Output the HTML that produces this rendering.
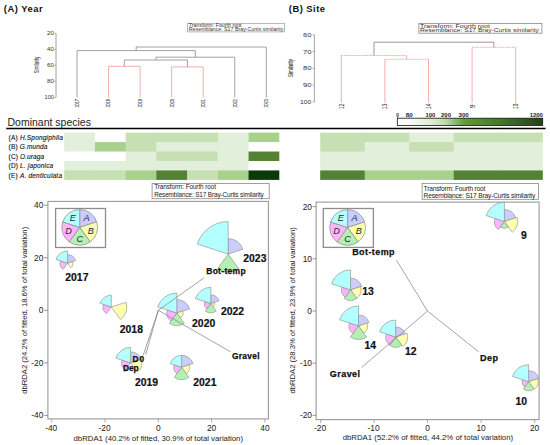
<!DOCTYPE html>
<html><head><meta charset="utf-8"><title>Figure</title>
<style>
html,body{margin:0;padding:0;background:#fff;width:550px;height:445px;overflow:hidden;}
svg{display:block;}
text{font-family:"Liberation Sans",sans-serif;}
</style></head><body>
<svg width="550" height="445" viewBox="0 0 550 445">
<rect width="550" height="445" fill="#fff"/>
<text x="3.8" y="11.9" font-size="9.4" font-weight="bold" fill="#111" textLength="38.9">(A) Year</text>
<text x="288.8" y="11.9" font-size="9.4" font-weight="bold" fill="#111" textLength="36.2">(B) Site</text>
<line x1="56.0" y1="33.3" x2="56.0" y2="97.5" stroke="#8c8c8c" stroke-width="0.8"/>
<line x1="54.4" y1="33.3" x2="56.0" y2="33.3" stroke="#8c8c8c" stroke-width="0.7"/>
<text x="53.9" y="35.10" font-size="5.0" text-anchor="end" fill="#333" textLength="6.9" lengthAdjust="spacingAndGlyphs">20</text>
<line x1="54.4" y1="49.35" x2="56.0" y2="49.35" stroke="#8c8c8c" stroke-width="0.7"/>
<text x="53.9" y="51.15" font-size="5.0" text-anchor="end" fill="#333" textLength="6.9" lengthAdjust="spacingAndGlyphs">40</text>
<line x1="54.4" y1="65.4" x2="56.0" y2="65.4" stroke="#8c8c8c" stroke-width="0.7"/>
<text x="53.9" y="67.20" font-size="5.0" text-anchor="end" fill="#333" textLength="6.9" lengthAdjust="spacingAndGlyphs">60</text>
<line x1="54.4" y1="81.45" x2="56.0" y2="81.45" stroke="#8c8c8c" stroke-width="0.7"/>
<text x="53.9" y="83.25" font-size="5.0" text-anchor="end" fill="#333" textLength="6.9" lengthAdjust="spacingAndGlyphs">80</text>
<line x1="54.4" y1="97.5" x2="56.0" y2="97.5" stroke="#8c8c8c" stroke-width="0.7"/>
<text x="53.9" y="99.30" font-size="5.0" text-anchor="end" fill="#333" textLength="9.4" lengthAdjust="spacingAndGlyphs">100</text>
<text transform="translate(39.4,64.8) rotate(-90)" font-size="6.6" text-anchor="middle" fill="#111" textLength="16.2" lengthAdjust="spacingAndGlyphs">Similarity</text>
<path d="M108.55,97.50 V66.30 H140.10 V97.50" fill="none" stroke="#f29a9a" stroke-width="0.8"/>
<path d="M171.65,97.50 V66.90 H203.20 V97.50" fill="none" stroke="#f29a9a" stroke-width="0.8"/>
<path d="M124.32,66.30 V60.00 H187.43 V66.90" fill="none" stroke="#8c8c8c" stroke-width="0.8"/>
<path d="M155.88,60.00 V57.20 H234.75 V97.50" fill="none" stroke="#8c8c8c" stroke-width="0.8"/>
<path d="M77.00,97.50 V50.60 H195.31 V57.20" fill="none" stroke="#8c8c8c" stroke-width="0.8"/>
<path d="M136.16,50.60 V47.00 H266.30 V97.50" fill="none" stroke="#8c8c8c" stroke-width="0.8"/>
<text transform="translate(78.90,103.3) rotate(-90)" font-size="6.0" text-anchor="middle" fill="#000" textLength="8.4" lengthAdjust="spacingAndGlyphs">2017</text>
<text transform="translate(110.45,103.3) rotate(-90)" font-size="6.0" text-anchor="middle" fill="#000" textLength="8.4" lengthAdjust="spacingAndGlyphs">2018</text>
<text transform="translate(142.00,103.3) rotate(-90)" font-size="6.0" text-anchor="middle" fill="#000" textLength="8.4" lengthAdjust="spacingAndGlyphs">2019</text>
<text transform="translate(173.55,103.3) rotate(-90)" font-size="6.0" text-anchor="middle" fill="#000" textLength="8.4" lengthAdjust="spacingAndGlyphs">2020</text>
<text transform="translate(205.10,103.3) rotate(-90)" font-size="6.0" text-anchor="middle" fill="#000" textLength="8.4" lengthAdjust="spacingAndGlyphs">2021</text>
<text transform="translate(236.65,103.3) rotate(-90)" font-size="6.0" text-anchor="middle" fill="#000" textLength="8.4" lengthAdjust="spacingAndGlyphs">2022</text>
<text transform="translate(268.20,103.3) rotate(-90)" font-size="6.0" text-anchor="middle" fill="#000" textLength="8.4" lengthAdjust="spacingAndGlyphs">2023</text>
<rect x="187.6" y="23.3" width="96.8" height="8.6" fill="#fff" stroke="#999" stroke-width="0.7"/>
<text x="188.8" y="27.3" font-size="5.0" fill="#333" textLength="52.8" lengthAdjust="spacingAndGlyphs">Transform: Fourth root</text>
<text x="188.8" y="31.3" font-size="5.0" fill="#333" textLength="94.6" lengthAdjust="spacingAndGlyphs">Resemblance: S17 Bray-Curtis similarity</text>
<line x1="314.4" y1="34.8" x2="314.4" y2="102.0" stroke="#8c8c8c" stroke-width="0.8"/>
<line x1="312.59999999999997" y1="34.8" x2="314.4" y2="34.8" stroke="#8c8c8c" stroke-width="0.7"/>
<text x="311.40" y="36.80" font-size="5.5" text-anchor="end" fill="#333" textLength="8.5" lengthAdjust="spacingAndGlyphs">60</text>
<line x1="312.59999999999997" y1="51.6" x2="314.4" y2="51.6" stroke="#8c8c8c" stroke-width="0.7"/>
<text x="311.40" y="53.60" font-size="5.5" text-anchor="end" fill="#333" textLength="8.5" lengthAdjust="spacingAndGlyphs">70</text>
<line x1="312.59999999999997" y1="68.4" x2="314.4" y2="68.4" stroke="#8c8c8c" stroke-width="0.7"/>
<text x="311.40" y="70.40" font-size="5.5" text-anchor="end" fill="#333" textLength="8.5" lengthAdjust="spacingAndGlyphs">80</text>
<line x1="312.59999999999997" y1="85.2" x2="314.4" y2="85.2" stroke="#8c8c8c" stroke-width="0.7"/>
<text x="311.40" y="87.20" font-size="5.5" text-anchor="end" fill="#333" textLength="8.5" lengthAdjust="spacingAndGlyphs">90</text>
<line x1="312.59999999999997" y1="102.0" x2="314.4" y2="102.0" stroke="#8c8c8c" stroke-width="0.7"/>
<text x="311.40" y="104.00" font-size="5.5" text-anchor="end" fill="#333" textLength="11.3" lengthAdjust="spacingAndGlyphs">100</text>
<text transform="translate(293.4,68.0) rotate(-90)" font-size="7.4" text-anchor="middle" fill="#111" textLength="18.2" lengthAdjust="spacingAndGlyphs">Similarity</text>
<line x1="384.90" y1="59.30" x2="384.90" y2="102.80" stroke="#f29a9a" stroke-width="0.8"/>
<line x1="428.50" y1="59.30" x2="428.50" y2="102.80" stroke="#f29a9a" stroke-width="0.8"/>
<line x1="384.90" y1="59.30" x2="428.50" y2="59.30" stroke="#f29a9a" stroke-width="0.8" stroke-dasharray="1.7,0.8"/>
<line x1="341.30" y1="55.50" x2="341.30" y2="102.80" stroke="#f29a9a" stroke-width="0.8"/>
<line x1="406.70" y1="55.50" x2="406.70" y2="59.30" stroke="#f29a9a" stroke-width="0.8"/>
<line x1="341.30" y1="55.50" x2="406.70" y2="55.50" stroke="#f29a9a" stroke-width="0.8" stroke-dasharray="1.7,0.8"/>
<line x1="472.10" y1="47.30" x2="472.10" y2="102.80" stroke="#f29a9a" stroke-width="0.8"/>
<line x1="515.70" y1="47.30" x2="515.70" y2="102.80" stroke="#f29a9a" stroke-width="0.8"/>
<line x1="472.10" y1="47.30" x2="515.70" y2="47.30" stroke="#f29a9a" stroke-width="0.8" stroke-dasharray="1.7,0.8"/>
<path d="M374.00,55.5 V42.2 H493.90 V47.3" fill="none" stroke="#939393" stroke-width="0.95"/>
<text transform="translate(343.70,106.3) rotate(-90)" font-size="7.0" text-anchor="middle" fill="#222" textLength="5.2" lengthAdjust="spacingAndGlyphs">12</text>
<text transform="translate(387.30,106.3) rotate(-90)" font-size="7.0" text-anchor="middle" fill="#222" textLength="5.2" lengthAdjust="spacingAndGlyphs">13</text>
<text transform="translate(430.90,106.3) rotate(-90)" font-size="7.0" text-anchor="middle" fill="#222" textLength="5.2" lengthAdjust="spacingAndGlyphs">14</text>
<text transform="translate(474.50,106.3) rotate(-90)" font-size="7.0" text-anchor="middle" fill="#222" >9</text>
<text transform="translate(518.10,106.3) rotate(-90)" font-size="7.0" text-anchor="middle" fill="#222" textLength="5.2" lengthAdjust="spacingAndGlyphs">10</text>
<rect x="418.9" y="23.4" width="123.0" height="9.8" fill="#fff" stroke="#888" stroke-width="0.8"/>
<text x="419.9" y="27.8" font-size="5.3" fill="#333" textLength="70" lengthAdjust="spacingAndGlyphs">Transform: Fourth root</text>
<text x="419.9" y="32.1" font-size="5.3" fill="#333" textLength="119" lengthAdjust="spacingAndGlyphs">Resemblance: S17 Bray-Curtis similarity</text>
<defs><linearGradient id="lg" x1="0" x2="1" y1="0" y2="0">
<stop offset="0" stop-color="#ffffff"/>
<stop offset="0.08" stop-color="#f7fbf4"/>
<stop offset="0.22" stop-color="#e0efd6"/>
<stop offset="0.33" stop-color="#bddcab"/>
<stop offset="0.46" stop-color="#5f9b40"/>
<stop offset="0.70" stop-color="#437a2c"/>
<stop offset="1" stop-color="#233f17"/>
</linearGradient></defs>
<rect x="397.3" y="118.2" width="145.4" height="7.2" fill="url(#lg)" stroke="#111" stroke-width="0.8"/>
<text x="397.6" y="116.6" font-size="5.1" text-anchor="middle" fill="#222" font-weight="bold" textLength="2.6" lengthAdjust="spacingAndGlyphs">0</text>
<line x1="397.6" y1="116.6" x2="397.6" y2="118.2" stroke="#333" stroke-width="0.5"/>
<text x="409.2" y="116.6" font-size="5.1" text-anchor="middle" fill="#222" font-weight="bold" textLength="7.0" lengthAdjust="spacingAndGlyphs">80</text>
<line x1="409.2" y1="116.6" x2="409.2" y2="118.2" stroke="#333" stroke-width="0.5"/>
<text x="430.3" y="116.6" font-size="5.1" text-anchor="middle" fill="#222" font-weight="bold" textLength="9.8" lengthAdjust="spacingAndGlyphs">100</text>
<line x1="430.3" y1="116.6" x2="430.3" y2="118.2" stroke="#333" stroke-width="0.5"/>
<text x="446.0" y="116.6" font-size="5.1" text-anchor="middle" fill="#222" font-weight="bold" textLength="9.9" lengthAdjust="spacingAndGlyphs">200</text>
<line x1="446.0" y1="116.6" x2="446.0" y2="118.2" stroke="#333" stroke-width="0.5"/>
<text x="463.6" y="116.6" font-size="5.1" text-anchor="middle" fill="#222" font-weight="bold" textLength="10.2" lengthAdjust="spacingAndGlyphs">300</text>
<line x1="463.6" y1="116.6" x2="463.6" y2="118.2" stroke="#333" stroke-width="0.5"/>
<text x="536.3" y="116.6" font-size="5.1" text-anchor="middle" fill="#222" font-weight="bold" textLength="13.2" lengthAdjust="spacingAndGlyphs">1200</text>
<line x1="536.3" y1="116.6" x2="536.3" y2="118.2" stroke="#333" stroke-width="0.5"/>
<text x="7.5" y="126.0" font-size="10.5" fill="#1a1a1a">Dominant species</text>
<line x1="6.2" y1="128.4" x2="545.6" y2="128.4" stroke="#000" stroke-width="1.5"/>
<text x="8.6" y="139.93" font-size="6.5" fill="#111" stroke="#111" stroke-width="0.12" textLength="54.2">(A) <tspan font-style="italic">H.Spongiphila</tspan></text>
<text x="8.6" y="149.39" font-size="6.5" fill="#111" stroke="#111" stroke-width="0.12" textLength="38.8">(B) <tspan font-style="italic">G.munda</tspan></text>
<text x="8.6" y="158.85" font-size="6.5" fill="#111" stroke="#111" stroke-width="0.12" textLength="35.5">(C) <tspan font-style="italic">O.uraga</tspan></text>
<text x="8.6" y="168.31" font-size="6.5" fill="#111" stroke="#111" stroke-width="0.12" textLength="44.6">(D) <tspan font-style="italic">L. japonica</tspan></text>
<text x="8.6" y="177.77" font-size="6.5" fill="#111" stroke="#111" stroke-width="0.12" textLength="53.4">(E) <tspan font-style="italic">A. denticulata</tspan></text>
<rect x="64.20" y="132.60" width="31.33" height="10.06" fill="#e2efda"/>
<rect x="64.20" y="142.06" width="31.33" height="10.06" fill="#e2efda"/>
<rect x="64.20" y="151.52" width="31.33" height="10.06" fill="#ffffff"/>
<rect x="64.20" y="160.98" width="31.33" height="10.06" fill="#e2efda"/>
<rect x="64.20" y="170.44" width="31.33" height="9.46" fill="#c6e0b4"/>
<rect x="94.93" y="132.60" width="31.33" height="10.06" fill="#ffffff"/>
<rect x="94.93" y="142.06" width="31.33" height="10.06" fill="#a9d18e"/>
<rect x="94.93" y="151.52" width="31.33" height="10.06" fill="#ffffff"/>
<rect x="94.93" y="160.98" width="31.33" height="10.06" fill="#e2efda"/>
<rect x="94.93" y="170.44" width="31.33" height="9.46" fill="#c6e0b4"/>
<rect x="125.66" y="132.60" width="31.33" height="10.06" fill="#c6e0b4"/>
<rect x="125.66" y="142.06" width="31.33" height="10.06" fill="#c6e0b4"/>
<rect x="125.66" y="151.52" width="31.33" height="10.06" fill="#e2efda"/>
<rect x="125.66" y="160.98" width="31.33" height="10.06" fill="#e2efda"/>
<rect x="125.66" y="170.44" width="31.33" height="9.46" fill="#a9d18e"/>
<rect x="156.39" y="132.60" width="31.33" height="10.06" fill="#c6e0b4"/>
<rect x="156.39" y="142.06" width="31.33" height="10.06" fill="#e2efda"/>
<rect x="156.39" y="151.52" width="31.33" height="10.06" fill="#c6e0b4"/>
<rect x="156.39" y="160.98" width="31.33" height="10.06" fill="#e2efda"/>
<rect x="156.39" y="170.44" width="31.33" height="9.46" fill="#548235"/>
<rect x="187.11" y="132.60" width="31.33" height="10.06" fill="#c6e0b4"/>
<rect x="187.11" y="142.06" width="31.33" height="10.06" fill="#e2efda"/>
<rect x="187.11" y="151.52" width="31.33" height="10.06" fill="#c6e0b4"/>
<rect x="187.11" y="160.98" width="31.33" height="10.06" fill="#e2efda"/>
<rect x="187.11" y="170.44" width="31.33" height="9.46" fill="#c6e0b4"/>
<rect x="217.84" y="132.60" width="31.33" height="10.06" fill="#e2efda"/>
<rect x="217.84" y="142.06" width="31.33" height="10.06" fill="#e2efda"/>
<rect x="217.84" y="151.52" width="31.33" height="10.06" fill="#e2efda"/>
<rect x="217.84" y="160.98" width="31.33" height="10.06" fill="#e2efda"/>
<rect x="217.84" y="170.44" width="31.33" height="9.46" fill="#a9d18e"/>
<rect x="248.57" y="132.60" width="30.73" height="10.06" fill="#a9d18e"/>
<rect x="248.57" y="142.06" width="30.73" height="10.06" fill="#ffffff"/>
<rect x="248.57" y="151.52" width="30.73" height="10.06" fill="#548235"/>
<rect x="248.57" y="160.98" width="30.73" height="10.06" fill="#ffffff"/>
<rect x="248.57" y="170.44" width="30.73" height="9.46" fill="#0b3a08"/>
<rect x="320.20" y="132.60" width="45.12" height="10.06" fill="#c6e0b4"/>
<rect x="320.20" y="142.06" width="45.12" height="10.06" fill="#c6e0b4"/>
<rect x="320.20" y="151.52" width="45.12" height="10.06" fill="#e2efda"/>
<rect x="320.20" y="160.98" width="45.12" height="10.06" fill="#e2efda"/>
<rect x="320.20" y="170.44" width="45.12" height="9.46" fill="#548235"/>
<rect x="364.72" y="132.60" width="45.12" height="10.06" fill="#c6e0b4"/>
<rect x="364.72" y="142.06" width="45.12" height="10.06" fill="#e2efda"/>
<rect x="364.72" y="151.52" width="45.12" height="10.06" fill="#e2efda"/>
<rect x="364.72" y="160.98" width="45.12" height="10.06" fill="#e2efda"/>
<rect x="364.72" y="170.44" width="45.12" height="9.46" fill="#a9d18e"/>
<rect x="409.24" y="132.60" width="45.12" height="10.06" fill="#e2efda"/>
<rect x="409.24" y="142.06" width="45.12" height="10.06" fill="#c6e0b4"/>
<rect x="409.24" y="151.52" width="45.12" height="10.06" fill="#e2efda"/>
<rect x="409.24" y="160.98" width="45.12" height="10.06" fill="#e2efda"/>
<rect x="409.24" y="170.44" width="45.12" height="9.46" fill="#a9d18e"/>
<rect x="453.76" y="132.60" width="45.12" height="10.06" fill="#c6e0b4"/>
<rect x="453.76" y="142.06" width="45.12" height="10.06" fill="#e2efda"/>
<rect x="453.76" y="151.52" width="45.12" height="10.06" fill="#e2efda"/>
<rect x="453.76" y="160.98" width="45.12" height="10.06" fill="#e2efda"/>
<rect x="453.76" y="170.44" width="45.12" height="9.46" fill="#548235"/>
<rect x="498.28" y="132.60" width="44.52" height="10.06" fill="#c6e0b4"/>
<rect x="498.28" y="142.06" width="44.52" height="10.06" fill="#e2efda"/>
<rect x="498.28" y="151.52" width="44.52" height="10.06" fill="#e2efda"/>
<rect x="498.28" y="160.98" width="44.52" height="10.06" fill="#e2efda"/>
<rect x="498.28" y="170.44" width="44.52" height="9.46" fill="#548235"/>
<rect x="47.9" y="201.4" width="220.5" height="217.5" fill="none" stroke="#9a9a9a" stroke-width="1.1"/>
<rect x="152.1" y="183.4" width="117.1" height="15.3" fill="#fff" stroke="#888" stroke-width="0.8"/>
<text x="154.2" y="189.2" font-size="6.4" fill="#222" textLength="61.8">Transform: Fourth root</text>
<text x="154.2" y="196.9" font-size="6.4" fill="#222" textLength="109.6">Resemblance: S17 Bray-Curtis similarity</text>
<line x1="51.70" y1="418.9" x2="51.70" y2="422.4" stroke="#999" stroke-width="0.8"/>
<text x="51.20" y="430.8" font-size="8.4" text-anchor="middle" fill="#222">-40</text>
<line x1="44.2" y1="415.40" x2="47.9" y2="415.40" stroke="#888" stroke-width="0.9"/>
<text x="43.4" y="418.40" font-size="8.4" text-anchor="end" fill="#222">-40</text>
<line x1="105.00" y1="418.9" x2="105.00" y2="422.4" stroke="#999" stroke-width="0.8"/>
<text x="104.50" y="430.8" font-size="8.4" text-anchor="middle" fill="#222">-20</text>
<line x1="44.2" y1="362.85" x2="47.9" y2="362.85" stroke="#888" stroke-width="0.9"/>
<text x="43.4" y="365.85" font-size="8.4" text-anchor="end" fill="#222">-20</text>
<line x1="158.30" y1="418.9" x2="158.30" y2="422.4" stroke="#999" stroke-width="0.8"/>
<text x="158.30" y="430.8" font-size="8.4" text-anchor="middle" fill="#222">0</text>
<line x1="44.2" y1="310.30" x2="47.9" y2="310.30" stroke="#888" stroke-width="0.9"/>
<text x="43.4" y="313.30" font-size="8.4" text-anchor="end" fill="#222">0</text>
<line x1="211.60" y1="418.9" x2="211.60" y2="422.4" stroke="#999" stroke-width="0.8"/>
<text x="211.60" y="430.8" font-size="8.4" text-anchor="middle" fill="#222">20</text>
<line x1="44.2" y1="257.75" x2="47.9" y2="257.75" stroke="#888" stroke-width="0.9"/>
<text x="43.4" y="260.75" font-size="8.4" text-anchor="end" fill="#222">20</text>
<line x1="264.90" y1="418.9" x2="264.90" y2="422.4" stroke="#999" stroke-width="0.8"/>
<text x="264.90" y="430.8" font-size="8.4" text-anchor="middle" fill="#222">40</text>
<line x1="44.2" y1="205.20" x2="47.9" y2="205.20" stroke="#888" stroke-width="0.9"/>
<text x="43.4" y="208.20" font-size="8.4" text-anchor="end" fill="#222">40</text>
<text x="158.3" y="440.7" font-size="7.8" text-anchor="middle" fill="#222" textLength="169.5">dbRDA1 (40.2% of fitted, 30.9% of total variation)</text>
<text transform="translate(26.5,310.3) rotate(-90)" font-size="7.7" text-anchor="middle" fill="#222" textLength="167">dbRDA2 (24.2% of fitted, 18.6% of total variation)</text>
<rect x="55.6" y="208.5" width="49.9" height="39.0" fill="#fff" stroke="#8c8c8c" stroke-width="1.3"/>
<path d="M79.70,227.40 L79.70,209.50 A17.90,17.90 0 0 1 96.72,221.87 Z" fill="#ccccff" stroke="#8a8a8a" stroke-width="0.7" stroke-linejoin="round"/>
<path d="M79.70,227.40 L96.72,221.87 A17.90,17.90 0 0 1 90.22,241.88 Z" fill="#ffffb0" stroke="#8a8a8a" stroke-width="0.7" stroke-linejoin="round"/>
<path d="M79.70,227.40 L90.22,241.88 A17.90,17.90 0 0 1 69.18,241.88 Z" fill="#b4f0b4" stroke="#8a8a8a" stroke-width="0.7" stroke-linejoin="round"/>
<path d="M79.70,227.40 L69.18,241.88 A17.90,17.90 0 0 1 62.68,221.87 Z" fill="#ffb4ff" stroke="#8a8a8a" stroke-width="0.7" stroke-linejoin="round"/>
<path d="M79.70,227.40 L62.68,221.87 A17.90,17.90 0 0 1 79.70,209.50 Z" fill="#b4ffff" stroke="#8a8a8a" stroke-width="0.7" stroke-linejoin="round"/>
<text x="86.59" y="220.61" text-anchor="middle" font-size="9.2" font-style="italic" fill="#2a2a2a">A</text>
<text x="90.85" y="233.72" text-anchor="middle" font-size="9.2" font-style="italic" fill="#2a2a2a">B</text>
<text x="79.70" y="241.82" text-anchor="middle" font-size="9.2" font-style="italic" fill="#2a2a2a">C</text>
<text x="68.55" y="233.72" text-anchor="middle" font-size="9.2" font-style="italic" fill="#2a2a2a">D</text>
<text x="72.81" y="220.61" text-anchor="middle" font-size="9.2" font-style="italic" fill="#2a2a2a">E</text>
<path d="M67.60,263.20 L67.60,254.70 A8.50,8.50 0 0 1 75.68,260.57 Z" fill="#ccccff" stroke="#8a8a8a" stroke-width="0.6" stroke-linejoin="round"/>
<path d="M67.60,263.20 L72.83,261.50 A5.50,5.50 0 0 1 70.83,267.65 Z" fill="#ffffb0" stroke="#8a8a8a" stroke-width="0.6" stroke-linejoin="round"/>
<path d="M67.60,263.20 L63.13,269.35 A7.60,7.60 0 0 1 60.37,260.85 Z" fill="#ffb4ff" stroke="#8a8a8a" stroke-width="0.6" stroke-linejoin="round"/>
<path d="M67.60,263.20 L56.00,259.43 A12.20,12.20 0 0 1 67.60,251.00 Z" fill="#b4ffff" stroke="#8a8a8a" stroke-width="0.6" stroke-linejoin="round"/>
<path d="M111.30,307.00 L126.04,302.21 A15.50,15.50 0 0 1 120.41,319.54 Z" fill="#ffffb0" stroke="#8a8a8a" stroke-width="0.6" stroke-linejoin="round"/>
<path d="M111.30,307.00 L106.42,313.71 A8.30,8.30 0 0 1 103.41,304.44 Z" fill="#ffb4ff" stroke="#8a8a8a" stroke-width="0.6" stroke-linejoin="round"/>
<path d="M111.30,307.00 L100.08,303.35 A11.80,11.80 0 0 1 111.30,295.20 Z" fill="#b4ffff" stroke="#8a8a8a" stroke-width="0.6" stroke-linejoin="round"/>
<path d="M130.60,362.90 L130.60,351.90 A11.00,11.00 0 0 1 141.06,359.50 Z" fill="#ccccff" stroke="#8a8a8a" stroke-width="0.6" stroke-linejoin="round"/>
<path d="M130.60,362.90 L141.54,359.35 A11.50,11.50 0 0 1 137.36,372.20 Z" fill="#ffffb0" stroke="#8a8a8a" stroke-width="0.6" stroke-linejoin="round"/>
<path d="M130.60,362.90 L125.31,370.18 A9.00,9.00 0 0 1 122.04,360.12 Z" fill="#ffb4ff" stroke="#8a8a8a" stroke-width="0.6" stroke-linejoin="round"/>
<path d="M130.60,362.90 L115.86,358.11 A15.50,15.50 0 0 1 130.60,347.40 Z" fill="#b4ffff" stroke="#8a8a8a" stroke-width="0.6" stroke-linejoin="round"/>
<path d="M176.80,313.00 L176.80,299.50 A13.50,13.50 0 0 1 189.64,308.83 Z" fill="#ccccff" stroke="#8a8a8a" stroke-width="0.6" stroke-linejoin="round"/>
<path d="M176.80,313.00 L182.79,311.05 A6.30,6.30 0 0 1 180.50,318.10 Z" fill="#ffffb0" stroke="#8a8a8a" stroke-width="0.6" stroke-linejoin="round"/>
<path d="M176.80,313.00 L184.32,323.36 A12.80,12.80 0 0 1 169.28,323.36 Z" fill="#b4f0b4" stroke="#8a8a8a" stroke-width="0.6" stroke-linejoin="round"/>
<path d="M176.80,313.00 L170.92,321.09 A10.00,10.00 0 0 1 167.29,309.91 Z" fill="#ffb4ff" stroke="#8a8a8a" stroke-width="0.6" stroke-linejoin="round"/>
<path d="M176.80,313.00 L157.78,306.82 A20.00,20.00 0 0 1 176.80,293.00 Z" fill="#b4ffff" stroke="#8a8a8a" stroke-width="0.6" stroke-linejoin="round"/>
<path d="M181.60,367.30 L181.60,355.30 A12.00,12.00 0 0 1 193.01,363.59 Z" fill="#ccccff" stroke="#8a8a8a" stroke-width="0.6" stroke-linejoin="round"/>
<path d="M181.60,367.30 L189.21,364.83 A8.00,8.00 0 0 1 186.30,373.77 Z" fill="#ffffb0" stroke="#8a8a8a" stroke-width="0.6" stroke-linejoin="round"/>
<path d="M181.60,367.30 L188.89,377.33 A12.40,12.40 0 0 1 174.31,377.33 Z" fill="#b4f0b4" stroke="#8a8a8a" stroke-width="0.6" stroke-linejoin="round"/>
<path d="M181.60,367.30 L177.02,373.61 A7.80,7.80 0 0 1 174.18,364.89 Z" fill="#ffb4ff" stroke="#8a8a8a" stroke-width="0.6" stroke-linejoin="round"/>
<path d="M181.60,367.30 L170.19,363.59 A12.00,12.00 0 0 1 181.60,355.30 Z" fill="#b4ffff" stroke="#8a8a8a" stroke-width="0.6" stroke-linejoin="round"/>
<path d="M210.80,303.50 L210.80,294.90 A8.60,8.60 0 0 1 218.98,300.84 Z" fill="#ccccff" stroke="#8a8a8a" stroke-width="0.6" stroke-linejoin="round"/>
<path d="M210.80,303.50 L214.51,302.29 A3.90,3.90 0 0 1 213.09,306.66 Z" fill="#ffffb0" stroke="#8a8a8a" stroke-width="0.6" stroke-linejoin="round"/>
<path d="M210.80,303.50 L216.27,311.02 A9.30,9.30 0 0 1 205.33,311.02 Z" fill="#b4f0b4" stroke="#8a8a8a" stroke-width="0.6" stroke-linejoin="round"/>
<path d="M210.80,303.50 L206.98,308.76 A6.50,6.50 0 0 1 204.62,301.49 Z" fill="#ffb4ff" stroke="#8a8a8a" stroke-width="0.6" stroke-linejoin="round"/>
<path d="M210.80,303.50 L195.39,298.49 A16.20,16.20 0 0 1 210.80,287.30 Z" fill="#b4ffff" stroke="#8a8a8a" stroke-width="0.6" stroke-linejoin="round"/>
<path d="M228.20,254.10 L228.20,238.60 A15.50,15.50 0 0 1 242.94,249.31 Z" fill="#ccccff" stroke="#8a8a8a" stroke-width="0.6" stroke-linejoin="round"/>
<path d="M228.20,254.10 L238.78,268.66 A18.00,18.00 0 0 1 217.62,268.66 Z" fill="#b4f0b4" stroke="#8a8a8a" stroke-width="0.6" stroke-linejoin="round"/>
<path d="M228.20,254.10 L197.29,244.06 A32.50,32.50 0 0 1 228.20,221.60 Z" fill="#b4ffff" stroke="#8a8a8a" stroke-width="0.6" stroke-linejoin="round"/>
<line x1="158.3" y1="310.3" x2="204.3" y2="277.6" stroke="#7e7e7e" stroke-width="0.7"/>
<line x1="158.3" y1="310.3" x2="230.7" y2="351.9" stroke="#7e7e7e" stroke-width="0.7"/>
<line x1="158.3" y1="310.3" x2="143.2" y2="355.4" stroke="#7e7e7e" stroke-width="0.7"/>
<line x1="158.3" y1="310.3" x2="145.7" y2="354.6" stroke="#7e7e7e" stroke-width="0.7"/>
<text x="65.3" y="280.5" font-size="10.4" font-weight="bold" fill="#111" stroke="#111" stroke-width="0.2">2017</text>
<text x="119.8" y="332.6" font-size="10.4" font-weight="bold" fill="#111" stroke="#111" stroke-width="0.2">2018</text>
<text x="135.0" y="386.3" font-size="10.4" font-weight="bold" fill="#111" stroke="#111" stroke-width="0.2">2019</text>
<text x="192.1" y="326.5" font-size="10.4" font-weight="bold" fill="#111" stroke="#111" stroke-width="0.2">2020</text>
<text x="193.3" y="386.3" font-size="10.4" font-weight="bold" fill="#111" stroke="#111" stroke-width="0.2">2021</text>
<text x="221.0" y="315.0" font-size="10.4" font-weight="bold" fill="#111" stroke="#111" stroke-width="0.2">2022</text>
<text x="243.3" y="262.0" font-size="10.4" font-weight="bold" fill="#111" stroke="#111" stroke-width="0.2">2023</text>
<text x="206.2" y="274.2" font-size="8.5" font-weight="bold" fill="#111" stroke="#111" stroke-width="0.25" textLength="39.4">Bot-temp</text>
<text x="232.0" y="359.1" font-size="8.4" font-weight="bold" fill="#111" stroke="#111" stroke-width="0.25" textLength="27.5">Gravel</text>
<text x="132.6" y="362.2" font-size="8.4" font-weight="bold" fill="#111" stroke="#111" stroke-width="0.25" textLength="11.5">D0</text>
<text x="123.1" y="371.0" font-size="8.4" font-weight="bold" fill="#111" stroke="#111" stroke-width="0.25" textLength="15.6">Dep</text>
<rect x="316.1" y="202.1" width="223.0" height="217.5" fill="none" stroke="#9a9a9a" stroke-width="1.1"/>
<rect x="422.1" y="183.5" width="116.4" height="15.8" fill="#fff" stroke="#888" stroke-width="0.8"/>
<line x1="320.60" y1="419.6" x2="320.60" y2="423.0" stroke="#999" stroke-width="0.8"/>
<text x="320.10" y="431.2" font-size="8.4" text-anchor="middle" fill="#222">-20</text>
<line x1="312.6" y1="415.40" x2="316.1" y2="415.40" stroke="#888" stroke-width="0.9"/>
<text x="312.0" y="418.40" font-size="8.4" text-anchor="end" fill="#222">-20</text>
<line x1="374.10" y1="419.6" x2="374.10" y2="423.0" stroke="#999" stroke-width="0.8"/>
<text x="373.60" y="431.2" font-size="8.4" text-anchor="middle" fill="#222">-10</text>
<line x1="312.6" y1="363.20" x2="316.1" y2="363.20" stroke="#888" stroke-width="0.9"/>
<text x="312.0" y="366.20" font-size="8.4" text-anchor="end" fill="#222">-10</text>
<line x1="427.60" y1="419.6" x2="427.60" y2="423.0" stroke="#999" stroke-width="0.8"/>
<text x="427.60" y="431.2" font-size="8.4" text-anchor="middle" fill="#222">0</text>
<line x1="312.6" y1="311.00" x2="316.1" y2="311.00" stroke="#888" stroke-width="0.9"/>
<text x="312.0" y="314.00" font-size="8.4" text-anchor="end" fill="#222">0</text>
<line x1="481.10" y1="419.6" x2="481.10" y2="423.0" stroke="#999" stroke-width="0.8"/>
<text x="481.10" y="431.2" font-size="8.4" text-anchor="middle" fill="#222">10</text>
<line x1="312.6" y1="258.80" x2="316.1" y2="258.80" stroke="#888" stroke-width="0.9"/>
<text x="312.0" y="261.80" font-size="8.4" text-anchor="end" fill="#222">10</text>
<line x1="534.60" y1="419.6" x2="534.60" y2="423.0" stroke="#999" stroke-width="0.8"/>
<text x="534.60" y="431.2" font-size="8.4" text-anchor="middle" fill="#222">20</text>
<line x1="312.6" y1="206.60" x2="316.1" y2="206.60" stroke="#888" stroke-width="0.9"/>
<text x="312.0" y="209.60" font-size="8.4" text-anchor="end" fill="#222">20</text>
<text x="427.9" y="440.3" font-size="7.8" text-anchor="middle" fill="#222" textLength="170.5">dbRDA1 (52.2% of fitted, 44.2% of total variation)</text>
<text transform="translate(294.6,310.3) rotate(-90)" font-size="7.7" text-anchor="middle" fill="#222" textLength="166.2">dbRDA2 (28.3% of fitted, 23.9% of total variation)</text>
<rect x="323.3" y="208.5" width="50.099999999999966" height="38.900000000000006" fill="#fff" stroke="#8c8c8c" stroke-width="1.3"/>
<path d="M347.60,227.50 L347.60,209.60 A17.90,17.90 0 0 1 364.62,221.97 Z" fill="#ccccff" stroke="#8a8a8a" stroke-width="0.7" stroke-linejoin="round"/>
<path d="M347.60,227.50 L364.62,221.97 A17.90,17.90 0 0 1 358.12,241.98 Z" fill="#ffffb0" stroke="#8a8a8a" stroke-width="0.7" stroke-linejoin="round"/>
<path d="M347.60,227.50 L358.12,241.98 A17.90,17.90 0 0 1 337.08,241.98 Z" fill="#b4f0b4" stroke="#8a8a8a" stroke-width="0.7" stroke-linejoin="round"/>
<path d="M347.60,227.50 L337.08,241.98 A17.90,17.90 0 0 1 330.58,221.97 Z" fill="#ffb4ff" stroke="#8a8a8a" stroke-width="0.7" stroke-linejoin="round"/>
<path d="M347.60,227.50 L330.58,221.97 A17.90,17.90 0 0 1 347.60,209.60 Z" fill="#b4ffff" stroke="#8a8a8a" stroke-width="0.7" stroke-linejoin="round"/>
<text x="354.49" y="220.71" text-anchor="middle" font-size="9.2" font-style="italic" fill="#2a2a2a">A</text>
<text x="358.75" y="233.82" text-anchor="middle" font-size="9.2" font-style="italic" fill="#2a2a2a">B</text>
<text x="347.60" y="241.92" text-anchor="middle" font-size="9.2" font-style="italic" fill="#2a2a2a">C</text>
<text x="336.45" y="233.82" text-anchor="middle" font-size="9.2" font-style="italic" fill="#2a2a2a">D</text>
<text x="340.71" y="220.71" text-anchor="middle" font-size="9.2" font-style="italic" fill="#2a2a2a">E</text>
<path d="M504.40,221.50 L504.40,209.50 A12.00,12.00 0 0 1 515.81,217.79 Z" fill="#ccccff" stroke="#8a8a8a" stroke-width="0.6" stroke-linejoin="round"/>
<path d="M504.40,221.50 L517.05,217.39 A13.30,13.30 0 0 1 512.22,232.26 Z" fill="#ffffb0" stroke="#8a8a8a" stroke-width="0.6" stroke-linejoin="round"/>
<path d="M504.40,221.50 L508.40,227.00 A6.80,6.80 0 0 1 500.40,227.00 Z" fill="#b4f0b4" stroke="#8a8a8a" stroke-width="0.6" stroke-linejoin="round"/>
<path d="M504.40,221.50 L498.52,229.59 A10.00,10.00 0 0 1 494.89,218.41 Z" fill="#ffb4ff" stroke="#8a8a8a" stroke-width="0.6" stroke-linejoin="round"/>
<path d="M504.40,221.50 L486.04,215.54 A19.30,19.30 0 0 1 504.40,202.20 Z" fill="#b4ffff" stroke="#8a8a8a" stroke-width="0.6" stroke-linejoin="round"/>
<path d="M350.50,289.90 L350.50,278.10 A11.80,11.80 0 0 1 361.72,286.25 Z" fill="#ccccff" stroke="#8a8a8a" stroke-width="0.6" stroke-linejoin="round"/>
<path d="M350.50,289.90 L360.49,286.66 A10.50,10.50 0 0 1 356.67,298.39 Z" fill="#ffffb0" stroke="#8a8a8a" stroke-width="0.6" stroke-linejoin="round"/>
<path d="M350.50,289.90 L356.67,298.39 A10.50,10.50 0 0 1 344.33,298.39 Z" fill="#b4f0b4" stroke="#8a8a8a" stroke-width="0.6" stroke-linejoin="round"/>
<path d="M350.50,289.90 L345.21,297.18 A9.00,9.00 0 0 1 341.94,287.12 Z" fill="#ffb4ff" stroke="#8a8a8a" stroke-width="0.6" stroke-linejoin="round"/>
<path d="M350.50,289.90 L331.48,283.72 A20.00,20.00 0 0 1 350.50,269.90 Z" fill="#b4ffff" stroke="#8a8a8a" stroke-width="0.6" stroke-linejoin="round"/>
<path d="M358.50,325.90 L358.50,314.90 A11.00,11.00 0 0 1 368.96,322.50 Z" fill="#ccccff" stroke="#8a8a8a" stroke-width="0.6" stroke-linejoin="round"/>
<path d="M358.50,325.90 L367.06,323.12 A9.00,9.00 0 0 1 363.79,333.18 Z" fill="#ffffb0" stroke="#8a8a8a" stroke-width="0.6" stroke-linejoin="round"/>
<path d="M358.50,325.90 L366.55,336.98 A13.70,13.70 0 0 1 350.45,336.98 Z" fill="#b4f0b4" stroke="#8a8a8a" stroke-width="0.6" stroke-linejoin="round"/>
<path d="M358.50,325.90 L352.92,333.59 A9.50,9.50 0 0 1 349.46,322.96 Z" fill="#ffb4ff" stroke="#8a8a8a" stroke-width="0.6" stroke-linejoin="round"/>
<path d="M358.50,325.90 L339.48,319.72 A20.00,20.00 0 0 1 358.50,305.90 Z" fill="#b4ffff" stroke="#8a8a8a" stroke-width="0.6" stroke-linejoin="round"/>
<path d="M395.70,337.00 L395.70,327.00 A10.00,10.00 0 0 1 405.21,333.91 Z" fill="#ccccff" stroke="#8a8a8a" stroke-width="0.6" stroke-linejoin="round"/>
<path d="M395.70,337.00 L407.11,333.29 A12.00,12.00 0 0 1 402.75,346.71 Z" fill="#ffffb0" stroke="#8a8a8a" stroke-width="0.6" stroke-linejoin="round"/>
<path d="M395.70,337.00 L401.70,345.25 A10.20,10.20 0 0 1 389.70,345.25 Z" fill="#b4f0b4" stroke="#8a8a8a" stroke-width="0.6" stroke-linejoin="round"/>
<path d="M395.70,337.00 L389.82,345.09 A10.00,10.00 0 0 1 386.19,333.91 Z" fill="#ffb4ff" stroke="#8a8a8a" stroke-width="0.6" stroke-linejoin="round"/>
<path d="M395.70,337.00 L379.53,331.75 A17.00,17.00 0 0 1 395.70,320.00 Z" fill="#b4ffff" stroke="#8a8a8a" stroke-width="0.6" stroke-linejoin="round"/>
<path d="M528.60,381.70 L528.60,370.70 A11.00,11.00 0 0 1 539.06,378.30 Z" fill="#ccccff" stroke="#8a8a8a" stroke-width="0.6" stroke-linejoin="round"/>
<path d="M528.60,381.70 L537.64,378.76 A9.50,9.50 0 0 1 534.18,389.39 Z" fill="#ffffb0" stroke="#8a8a8a" stroke-width="0.6" stroke-linejoin="round"/>
<path d="M528.60,381.70 L533.89,388.98 A9.00,9.00 0 0 1 523.31,388.98 Z" fill="#b4f0b4" stroke="#8a8a8a" stroke-width="0.6" stroke-linejoin="round"/>
<path d="M528.60,381.70 L524.78,386.96 A6.50,6.50 0 0 1 522.42,379.69 Z" fill="#ffb4ff" stroke="#8a8a8a" stroke-width="0.6" stroke-linejoin="round"/>
<path d="M528.60,381.70 L512.43,376.45 A17.00,17.00 0 0 1 528.60,364.70 Z" fill="#b4ffff" stroke="#8a8a8a" stroke-width="0.6" stroke-linejoin="round"/>
<line x1="427.5" y1="311.0" x2="396.4" y2="260.0" stroke="#7e7e7e" stroke-width="0.7"/>
<line x1="427.5" y1="311.0" x2="361.6" y2="367.5" stroke="#7e7e7e" stroke-width="0.7"/>
<line x1="427.5" y1="311.0" x2="478.7" y2="351.8" stroke="#7e7e7e" stroke-width="0.7"/>
<text x="520.9" y="238.9" font-size="10.4" font-weight="bold" fill="#111" stroke="#111" stroke-width="0.2">9</text>
<text x="362.2" y="295.0" font-size="10.4" font-weight="bold" fill="#111" stroke="#111" stroke-width="0.2">13</text>
<text x="364.4" y="348.7" font-size="10.4" font-weight="bold" fill="#111" stroke="#111" stroke-width="0.2">14</text>
<text x="405.0" y="354.5" font-size="10.4" font-weight="bold" fill="#111" stroke="#111" stroke-width="0.2">12</text>
<text x="515.6" y="404.8" font-size="10.4" font-weight="bold" fill="#111" stroke="#111" stroke-width="0.2">10</text>
<text x="352.2" y="254.8" font-size="9.0" font-weight="bold" fill="#111" stroke="#111" stroke-width="0.25" textLength="42.4">Bot-temp</text>
<text x="329.7" y="376.6" font-size="9.0" font-weight="bold" fill="#111" stroke="#111" stroke-width="0.25" textLength="30.4">Gravel</text>
<text x="480.0" y="361.4" font-size="9.0" font-weight="bold" fill="#111" stroke="#111" stroke-width="0.25" textLength="18.0">Dep</text>
<text x="423.6" y="190.9" font-size="6.6" fill="#222" textLength="61.8">Transform: Fourth root</text>
<text x="423.6" y="198.2" font-size="6.6" fill="#222" textLength="111.6">Resemblance: S17 Bray-Curtis similarity</text>
</svg>
</body></html>
